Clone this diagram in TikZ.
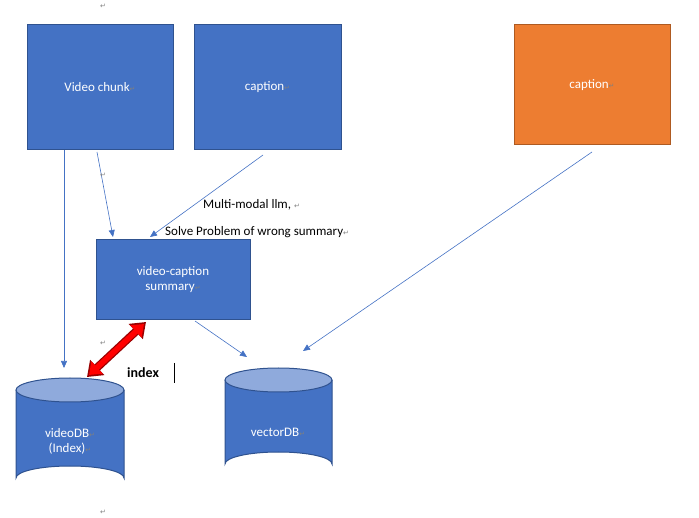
\documentclass[tikz,border=0pt]{standalone}
\usepackage{fontspec}
\setmainfont{Carlito}
\newfontfamily\dvs{DejaVu Sans}
\usetikzlibrary{arrows.meta}
\definecolor{bl}{HTML}{4472C4}
\definecolor{bld}{HTML}{2F528F}
\definecolor{blt}{HTML}{8FAADC}
\definecolor{org}{HTML}{ED7D31}
\definecolor{orgd}{HTML}{AE5A21}
\newcommand{\rt}{{\dvs\color{gray}\scriptsize ↵}}
\tikzset{box/.style={draw=bld,fill=bl,line width=1pt,text=white,font=\fontsize{13}{15}\selectfont,align=center,inner sep=0pt},
 con/.style={draw=bl,line width=0.6pt,-{Triangle[length=7pt,width=6pt]}},
 txt/.style={font=\fontsize{13}{15}\selectfont,anchor=west,inner sep=0pt}}
\newcommand{\cyl}[5]{% x1 x2 ytop ybot name
 \fill[bl] (#1,#3) -- (#1,#4) arc[start angle=180,end angle=360,x radius={(#2-#1)/2},y radius=12] -- (#2,#3) -- cycle;
 \draw[bld,line width=1pt] (#1,#3) -- (#1,#4) arc[start angle=180,end angle=360,x radius={(#2-#1)/2},y radius=12] -- (#2,#3);
 \draw[bld,line width=1pt,fill=blt] ({(#1+#2)/2},#3) ellipse[x radius={(#2-#1)/2},y radius=12];
 \coordinate (#5) at ({(#1+#2)/2},#3);}
\begin{document}
\begin{tikzpicture}[x=1pt,y=-1pt]
\useasboundingbox (0,0) rectangle (699,518);
\node[box,minimum width=146pt,minimum height=125pt] (vc) at (100,87.5) {Video chunk\rt};
\node[box,minimum width=147pt,minimum height=125pt] (c1) at (267.5,87.5) {caption\rt};
\node[box,draw=orgd,fill=org,minimum width=156pt,minimum height=120pt] (c2) at (592,85) {caption\rt};
\node[box,minimum width=154pt,minimum height=80pt] (s) at (173,280) {video-caption\\summary\rt};
\cyl{16}{124}{390}{478}{vdb}
\cyl{225}{332}{380}{464}{vec}
\node[text=white,font=\fontsize{13}{15}\selectfont,align=center] (vdbt) at (70,441) {videoDB\rt\\(Index)\rt};
\node[text=white,font=\fontsize{13}{15}\selectfont] (vect) at (278,432) {vectorDB\rt};
\draw[con] (64,150) -- (64,368);
\draw[con] (97,152) -- (113,237);
\draw[con] (263,155) -- (150,237);
\draw[con] (592,152) -- (303,351);
\draw[con] (195,321) -- (247,357);
\draw[red!60!black,line width=8pt,{Triangle[length=14pt,width=20pt]}-{Triangle[length=14pt,width=20pt]}] (146,322) -- (87,377);
\draw[red,line width=5.5pt,{Triangle[length=11pt,width=16pt]}-{Triangle[length=11pt,width=16pt]}] (144,324) -- (89,375);
\node[txt] (t1) at (203,205) {Multi-modal llm, \rt};
\node[txt] (t2) at (165,232) {Solve Problem of wrong summary\rt};
\node[txt,font=\bfseries\fontsize{14}{16}\selectfont] (ix) at (127,373) {index};
\draw (174,363) -- (174,383);
\node (r1) at (103,6) {\rt};
\node (r2) at (103,175) {\rt};
\node (r3) at (103,343) {\rt};
\node (r4) at (103,512) {\rt};
\end{tikzpicture}
\end{document}
